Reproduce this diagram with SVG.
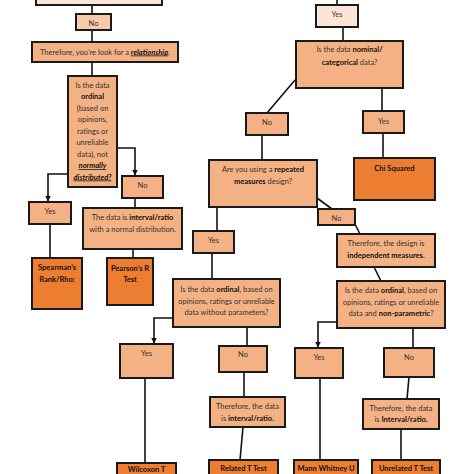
<svg xmlns="http://www.w3.org/2000/svg" width="474" height="474" viewBox="0 0 474 474">
<style>
rect{stroke:#1a1a1a;stroke-width:2}
.pale{fill:#FBE5D6}.soft{fill:#F8CBAD}.lt{fill:#F4B183}.dk{fill:#ED7D31}
text{font-family:Lato,"Liberation Sans",sans-serif;font-size:7.5px;fill:#333;text-anchor:middle}
.b{font-weight:bold;fill:#111}
.u{font-weight:bold;font-style:italic;text-decoration:underline;fill:#111}
#connectors line,#connectors polyline{stroke:#111;stroke-width:1.6;fill:none}
</style>
<defs>
<marker id="ah" viewBox="0 0 10 10" refX="9" refY="5" markerWidth="3.5" markerHeight="3.5" orient="auto"><path d="M0,0L10,5L0,10z" fill="#111"/></marker>
</defs>
<rect width="474" height="474" fill="#fff" style="stroke:none"/>
<g id="connectors">
<line x1="92" y1="5" x2="92" y2="14"/>
<line x1="92" y1="30" x2="92" y2="42"/>
<line x1="92" y1="62" x2="92" y2="76"/>
<polyline points="117,148 135,148 135,175" marker-end="url(#ah)"/>
<polyline points="68,174 48,174 48,201" marker-end="url(#ah)"/>
<line x1="50" y1="224" x2="50" y2="258"/>
<line x1="135" y1="198" x2="135" y2="208"/>
<line x1="133" y1="241" x2="133" y2="258"/>
<line x1="337" y1="0" x2="337" y2="5"/>
<line x1="343" y1="27" x2="343" y2="41"/>
<line x1="295" y1="80" x2="267" y2="113"/>
<line x1="382" y1="88" x2="382" y2="111"/>
<line x1="383" y1="133" x2="383" y2="158"/>
<line x1="262" y1="135" x2="262" y2="160"/>
<line x1="317" y1="198" x2="332" y2="209"/>
<line x1="355" y1="224" x2="360" y2="234"/>
<line x1="374" y1="267" x2="381" y2="281"/>
<line x1="413" y1="328" x2="413" y2="348"/>
<polyline points="337,322 318,322 318,347" marker-end="url(#ah)"/>
<line x1="320" y1="378" x2="320" y2="460"/>
<line x1="409" y1="377" x2="407" y2="399"/>
<line x1="401" y1="429" x2="401" y2="460"/>
<line x1="217" y1="207" x2="217" y2="231"/>
<line x1="212" y1="253" x2="212" y2="279"/>
<polyline points="173,318 154,318 154,343" marker-end="url(#ah)"/>
<line x1="145" y1="378" x2="145" y2="463"/>
<line x1="247" y1="327" x2="247" y2="346"/>
<line x1="244" y1="372" x2="244" y2="397"/>
<line x1="243" y1="427" x2="240" y2="460"/>
</g>
<g id="top-left"><rect class="pale" x="36" y="-20" width="126" height="25"/></g>
<g id="no-1"><rect class="soft" x="76" y="14" width="35" height="16"/><text x="93.5" y="25.5">No</text></g>
<g id="relationship"><rect class="lt" x="32" y="42" width="146" height="20"/><text x="105" y="54.5">Therefore, you’re look for a <tspan class="u">relationship</tspan>.</text></g>
<g id="ordinal-1"><rect class="lt" x="68" y="76" width="49" height="111"/>
<text x="92.5" y="87.5">Is the data</text>
<text x="92.5" y="99" class="b">ordinal</text>
<text x="92.5" y="110.5">(based on</text>
<text x="92.5" y="122">opinions,</text>
<text x="92.5" y="133.5">ratings or</text>
<text x="92.5" y="145">unreliable</text>
<text x="92.5" y="156.5">data), not</text>
<text x="92.5" y="168" class="u">normally</text>
<text x="92.5" y="179.5" class="u">distributed?</text>
</g>
<g id="no-2"><rect class="lt" x="122" y="176" width="41" height="22"/><text x="142.5" y="187.5">No</text></g>
<g id="yes-1"><rect class="lt" x="29" y="202" width="42" height="22"/><text x="50" y="213.5">Yes</text></g>
<g id="interval-1"><rect class="lt" x="83" y="208" width="99" height="41"/>
<text x="132.5" y="219.5">The data is <tspan class="b">interval/ratio</tspan></text>
<text x="132.5" y="231.5">with a normal distribution.</text></g>
<g id="spearman"><rect class="dk" x="32" y="258" width="50" height="51"/>
<text x="57" y="269.5" class="b">Spearman’s</text><text x="57" y="281.5" class="b">Rank/Rho:</text></g>
<g id="pearson"><rect class="dk" x="107" y="258" width="46" height="47"/>
<text x="130" y="270.5" class="b">Pearson’s R</text><text x="130" y="281.5" class="b">Test</text></g>
<g id="yes-top"><rect class="pale" x="316" y="5" width="42" height="22"/><text x="337" y="16.5">Yes</text></g>
<g id="nominal"><rect class="lt" x="296" y="41" width="107" height="47"/>
<text x="349.5" y="51.5">Is the data <tspan class="b">nominal/</tspan></text>
<text x="349.5" y="64.5"><tspan class="b">categorical</tspan> data?</text></g>
<g id="no-3"><rect class="lt" x="246" y="113" width="42" height="22"/><text x="267" y="124.5">No</text></g>
<g id="yes-2"><rect class="lt" x="363" y="111" width="41" height="22"/><text x="383.5" y="123.5">Yes</text></g>
<g id="chi"><rect class="dk" x="354" y="158" width="81" height="42"/><text x="394.5" y="170.5" class="b">Chi Squared</text></g>
<g id="repeated"><rect class="lt" x="209" y="160" width="108" height="47"/>
<text x="263" y="171.5">Are you using a <tspan class="b">repeated</tspan></text>
<text x="263" y="183.5"><tspan class="b">measures</tspan> design?</text></g>
<g id="no-4"><rect class="lt" x="318" y="209" width="37" height="16"/><text x="336.5" y="220.5">No</text></g>
<g id="independent"><rect class="lt" x="337" y="234" width="98" height="33"/>
<text x="386" y="245.5">Therefore, the design is</text>
<text x="386" y="257.5" class="b">independent measures.</text></g>
<g id="ordinal-2"><rect class="lt" x="337" y="281" width="108" height="47"/>
<text x="391" y="292.5">Is the data <tspan class="b">ordinal</tspan>, based on</text>
<text x="391" y="304.5">opinions, ratings or unreliable</text>
<text x="391" y="315.5">data and <tspan class="b">non-parametric</tspan>?</text></g>
<g id="yes-3"><rect class="lt" x="193" y="231" width="41" height="22"/><text x="213.5" y="242.5">Yes</text></g>
<g id="ordinal-3"><rect class="lt" x="173" y="279" width="107" height="48"/>
<text x="226.5" y="291.5">Is the data <tspan class="b">ordinal</tspan>, based on</text>
<text x="226.5" y="303.5">opinions, ratings or unreliable</text>
<text x="226.5" y="314.5">data without parameters?</text></g>
<g id="yes-4"><rect class="lt" x="120" y="344" width="53" height="34"/><text x="146.5" y="355.5">Yes</text></g>
<g id="no-5"><rect class="lt" x="219" y="346" width="48" height="26"/><text x="243" y="356.5">No</text></g>
<g id="yes-5"><rect class="lt" x="295" y="348" width="48" height="30"/><text x="319" y="359.5">Yes</text></g>
<g id="no-6"><rect class="lt" x="384" y="348" width="50" height="29"/><text x="409" y="359.5">No</text></g>
<g id="interval-2"><rect class="lt" x="210" y="397" width="75" height="30"/>
<text x="247.5" y="408.5">Therefore, the data</text>
<text x="247.5" y="420.5">is <tspan class="b">interval/ratio.</tspan></text></g>
<g id="interval-3"><rect class="lt" x="363" y="399" width="76" height="30"/>
<text x="401" y="410.5">Therefore, the data</text>
<text x="401" y="421.5">is <tspan class="b">Interval/ratio.</tspan></text></g>
<g id="wilcoxon"><rect class="dk" x="117" y="463" width="59" height="30"/><text x="146.5" y="472" class="b">Wilcoxon T</text></g>
<g id="related"><rect class="dk" x="209" y="460" width="69" height="30"/><text x="243.5" y="470.5" class="b">Related T Test</text></g>
<g id="mann"><rect class="dk" x="294" y="460" width="64" height="30"/><text x="326" y="470.5" class="b">Mann Whitney U</text></g>
<g id="unrelated"><rect class="dk" x="372" y="460" width="68" height="30"/><text x="406" y="470.5" class="b">Unrelated T Test</text></g>
</svg>
